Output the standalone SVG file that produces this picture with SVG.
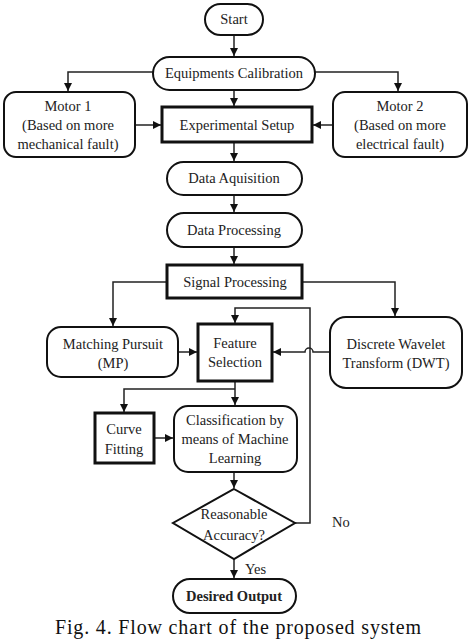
<svg xmlns="http://www.w3.org/2000/svg" width="474" height="641" viewBox="0 0 474 641">
<defs>
<marker id="ah" markerWidth="8" markerHeight="8" refX="8" refY="4" orient="auto" markerUnits="userSpaceOnUse">
<path d="M0,0 L8,4 L0,8 Z" fill="#111"/>
</marker>
<style>
.n{fill:#fff;stroke:#111;stroke-width:2}
.t{fill:#fff;stroke:#111;stroke-width:3}
.c{fill:none;stroke:#222;stroke-width:1.5}
text{font-family:"Liberation Serif","Times New Roman",serif;font-size:14.5px;fill:#222;text-anchor:middle}
.b{font-weight:bold}
.cap{font-size:20px;fill:#111}
</style>
</defs>
<rect width="474" height="641" fill="#fff"/>
<g id="connectors">
<path class="c" d="M234,35 V56" marker-end="url(#ah)"/>
<path class="c" d="M153,72 H68 V91" marker-end="url(#ah)"/>
<path class="c" d="M315,72 H398 V91" marker-end="url(#ah)"/>
<path class="c" d="M234,90 V106" marker-end="url(#ah)"/>
<path class="c" d="M135,125 H161" marker-end="url(#ah)"/>
<path class="c" d="M333,125 H313" marker-end="url(#ah)"/>
<path class="c" d="M234,142 V161" marker-end="url(#ah)"/>
<path class="c" d="M234,195 V212" marker-end="url(#ah)"/>
<path class="c" d="M234,247 V264" marker-end="url(#ah)"/>
<path class="c" d="M167,282 H113 V326" marker-end="url(#ah)"/>
<path class="c" d="M302,282 H395 V316" marker-end="url(#ah)"/>
<path class="c" d="M178,352 H197" marker-end="url(#ah)"/>
<path class="c" d="M330,352 H313 A4,4 0 0 0 305,352 H273" marker-end="url(#ah)"/>
<path class="c" d="M295,523 H310 V308 H235 V323" marker-end="url(#ah)"/>
<path class="c" d="M235,381 V405" marker-end="url(#ah)"/>
<path class="c" d="M235,389 H124 V412" marker-end="url(#ah)"/>
<path class="c" d="M154,438 H173" marker-end="url(#ah)"/>
<path class="c" d="M234,472 V488" marker-end="url(#ah)"/>
<path class="c" d="M234,559 V578" marker-end="url(#ah)"/>
</g>
<g id="start"><rect class="n" x="205" y="4" width="58" height="31" rx="15.5"/><text x="234" y="24">Start</text></g>
<g id="calibration"><rect class="n" x="153" y="57" width="162" height="33" rx="16.5"/><text x="234" y="78">Equipments Calibration</text></g>
<g id="motor1"><rect class="n" x="4" y="92" width="131" height="65" rx="12"/><text x="68" y="111">Motor 1</text><text x="68" y="130">(Based on more</text><text x="68" y="149">mechanical fault)</text></g>
<g id="motor2"><rect class="n" x="333" y="92" width="134" height="65" rx="12"/><text x="400" y="111">Motor 2</text><text x="400" y="130">(Based on more</text><text x="400" y="149">electrical fault)</text></g>
<g id="setup"><rect class="t" x="162" y="107" width="150" height="35"/><text x="237" y="130">Experimental Setup</text></g>
<g id="acquisition"><rect class="n" x="167" y="162" width="135" height="33" rx="16.5"/><text x="234" y="183">Data Aquisition</text></g>
<g id="processing"><rect class="n" x="167" y="213" width="135" height="34" rx="17"/><text x="234" y="235">Data Processing</text></g>
<g id="signal"><rect class="t" x="167" y="265" width="135" height="33"/><text x="235" y="287">Signal Processing</text></g>
<g id="mp"><rect class="n" x="47" y="327" width="131" height="50" rx="14"/><text x="113" y="349">Matching Pursuit</text><text x="113" y="368">(MP)</text></g>
<g id="feature"><rect class="t" x="198" y="324" width="74" height="57"/><text x="235" y="348">Feature</text><text x="235" y="367">Selection</text></g>
<g id="dwt"><rect class="n" x="330" y="317" width="132" height="71" rx="16"/><text x="396" y="349">Discrete Wavelet</text><text x="396" y="368">Transform (DWT)</text></g>
<g id="curve"><rect class="t" x="95" y="413" width="59" height="50"/><text x="124" y="434">Curve</text><text x="124" y="454">Fitting</text></g>
<g id="classification"><rect class="n" x="174" y="406" width="123" height="66" rx="14"/><text x="235" y="425">Classification by</text><text x="235" y="444">means of Machine</text><text x="235" y="463">Learning</text></g>
<g id="decision"><polygon class="n" points="234,489 295,523 234,559 173,523"/><text x="234" y="519">Reasonable</text><text x="234" y="540">Accuracy?</text></g>
<text x="332" y="527" style="text-anchor:start">No</text>
<text x="245" y="574" style="text-anchor:start">Yes</text>
<g id="output"><rect class="n" x="173" y="579" width="123" height="34" rx="17"/><text class="b" x="234" y="601">Desired Output</text></g>
<text class="cap" x="238" y="634" textLength="366" lengthAdjust="spacing">Fig. 4. Flow chart of the proposed system</text>
</svg>
